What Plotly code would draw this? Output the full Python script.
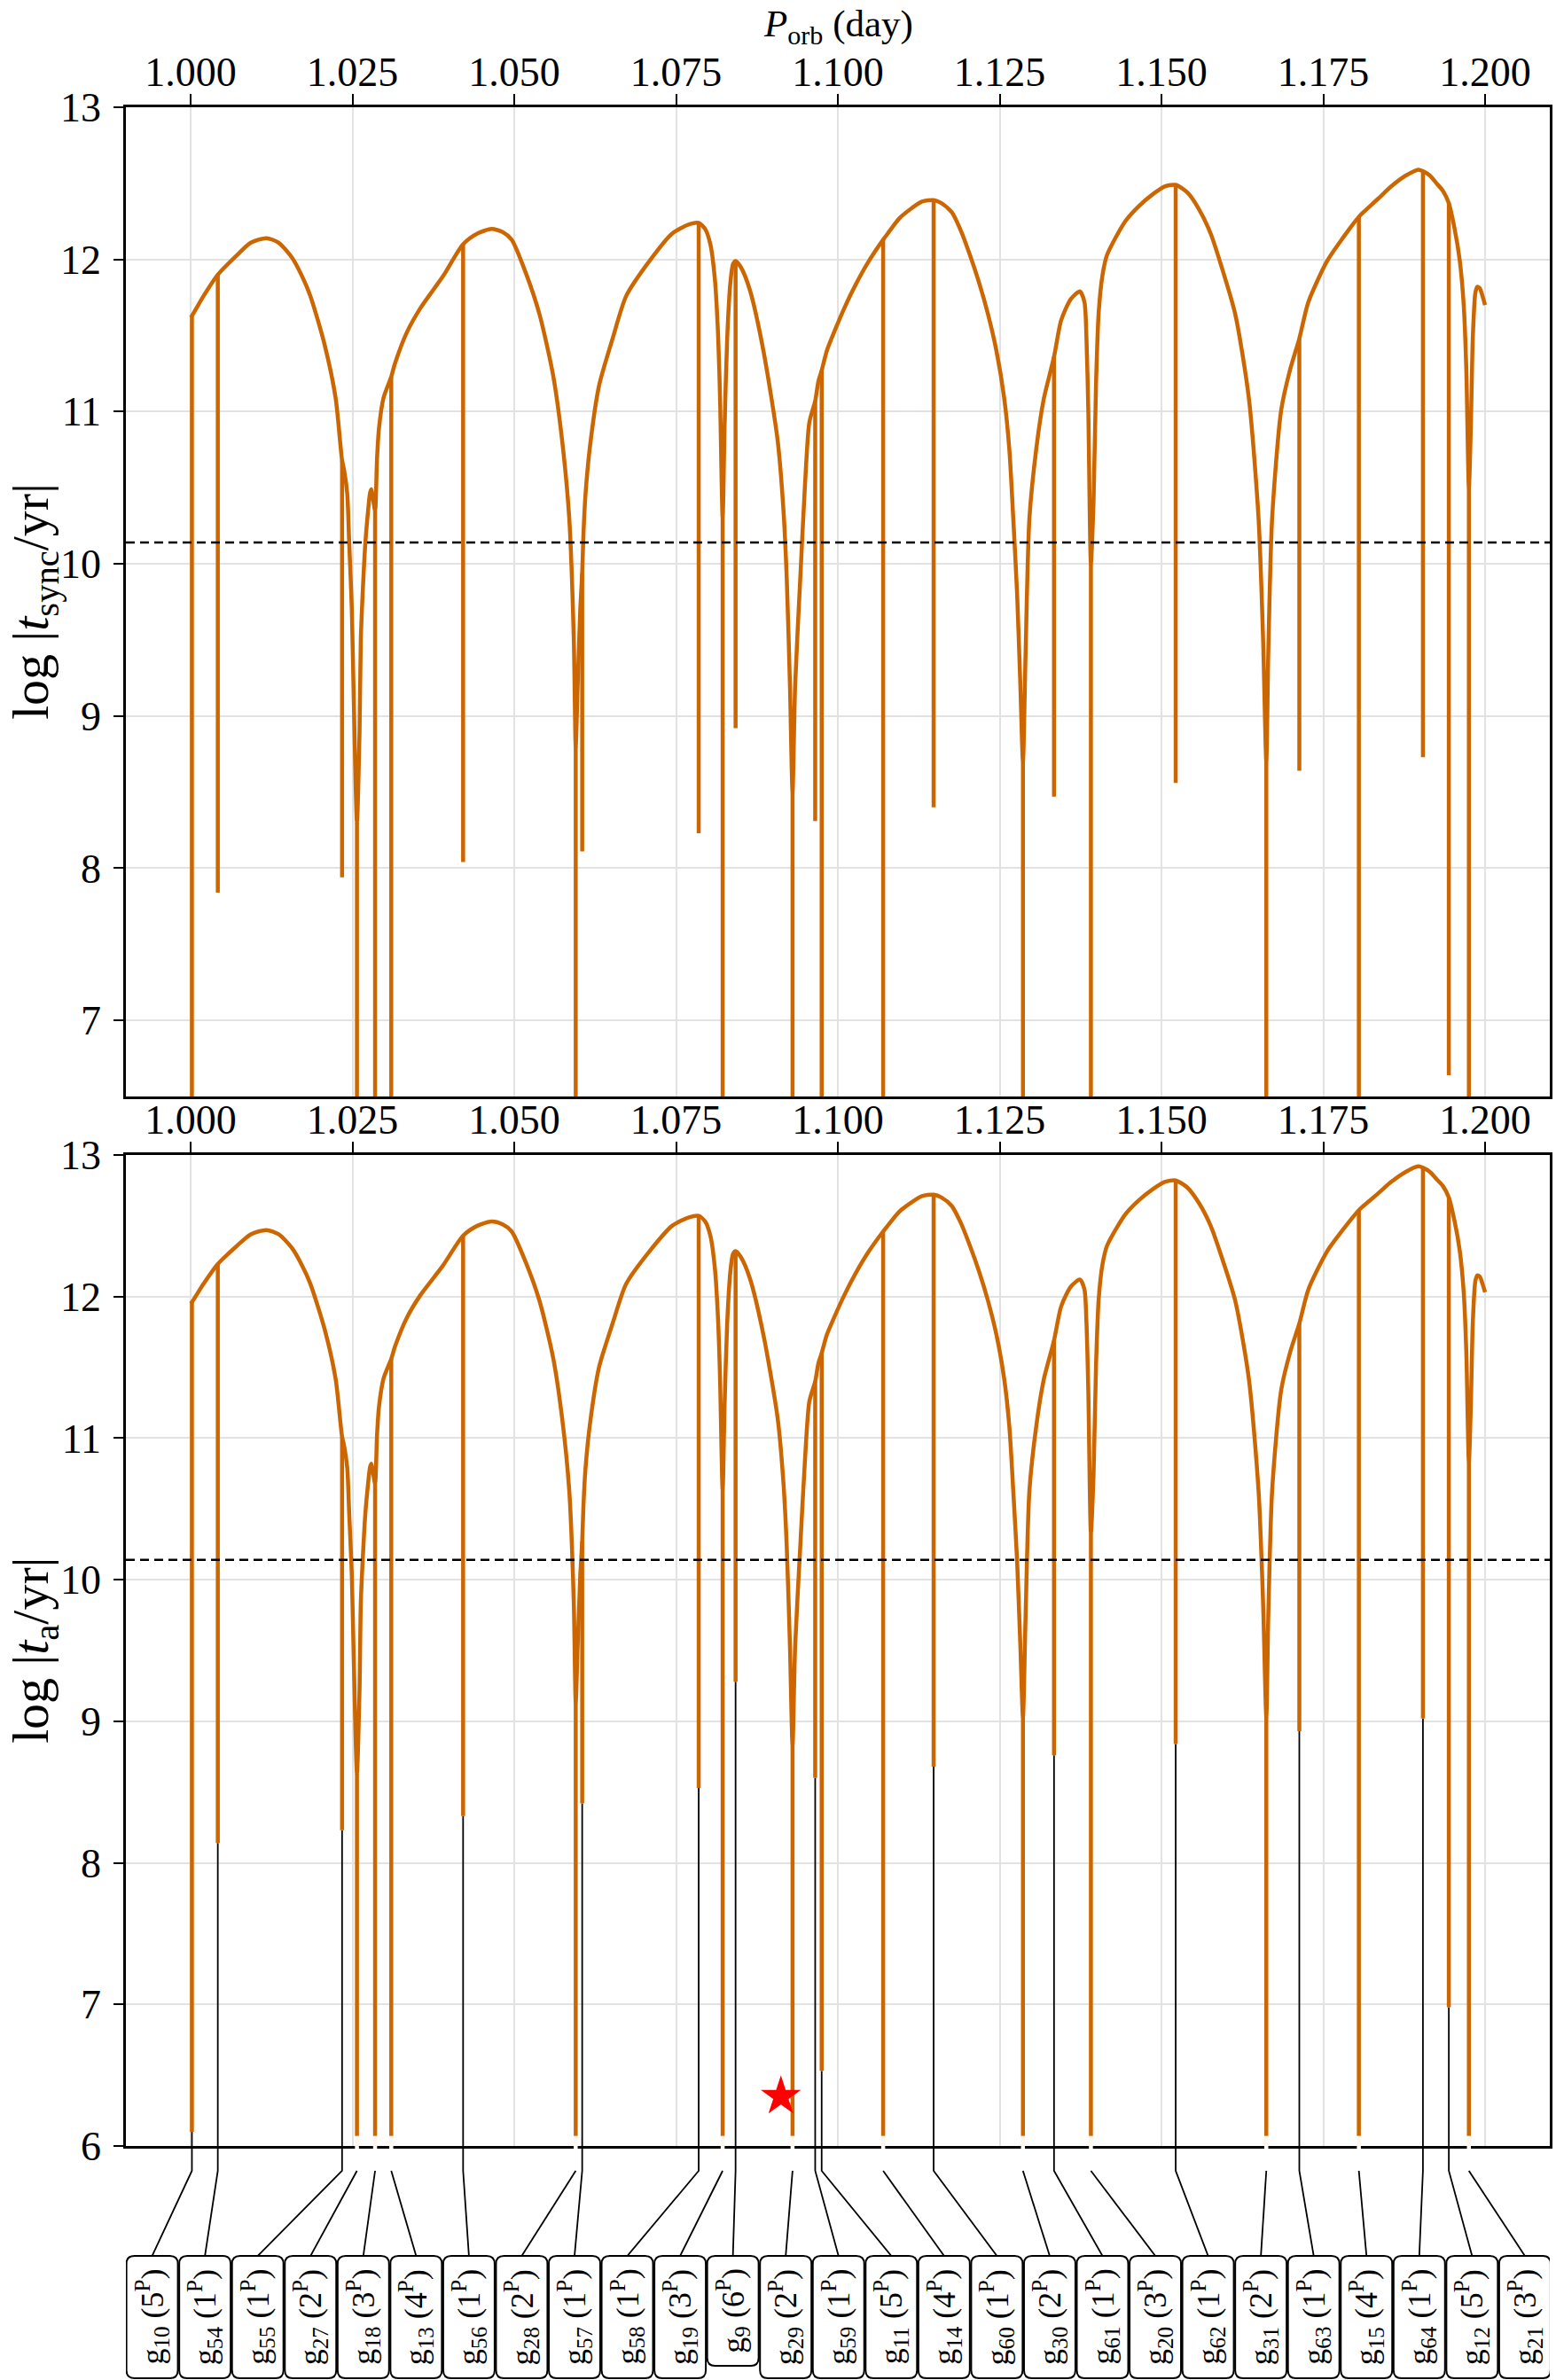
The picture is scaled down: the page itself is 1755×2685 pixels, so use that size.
import plotly.graph_objects as go

# ---------------- data ----------------
porb_env = [
    1.0000, 1.0002, 1.0020, 1.0042, 1.0072, 1.0093, 1.0117, 1.0136, 1.0157, 1.0171, 1.0185,
    1.0207, 1.0224, 1.0234, 1.0237, 1.0242, 1.0245, 1.0249, 1.0252, 1.0257, 1.0261, 1.0263,
    1.0267, 1.0270, 1.0274, 1.0277, 1.0279, 1.0282, 1.0285, 1.0288, 1.0291, 1.0298, 1.0310,
    1.0316, 1.0334, 1.0355, 1.0390, 1.0421, 1.0443, 1.0465, 1.0482, 1.0496, 1.0518, 1.0539,
    1.0560, 1.0574, 1.0585, 1.0592, 1.0595, 1.0598, 1.0602, 1.0605, 1.0607, 1.0610, 1.0617,
    1.0631, 1.0652, 1.0673, 1.0709, 1.0744, 1.0770, 1.0785, 1.0795, 1.0803, 1.0810, 1.0815,
    1.0818, 1.0822, 1.0825, 1.0829, 1.0834, 1.0838, 1.0842, 1.0850, 1.0864, 1.0885, 1.0907,
    1.0916, 1.0921, 1.0926, 1.0930, 1.0934, 1.0942, 1.0949, 1.0956, 1.0965, 1.0970, 1.0975,
    1.0983, 1.0995, 1.1010, 1.1027, 1.1048, 1.1070, 1.1077, 1.1095, 1.1112, 1.1130, 1.1148,
    1.1160, 1.1176, 1.1190, 1.1204, 1.1218, 1.1232, 1.1245, 1.1257, 1.1265, 1.1271, 1.1277,
    1.1282, 1.1286, 1.1290, 1.1296, 1.1307, 1.1318, 1.1334, 1.1345, 1.1360, 1.1374, 1.1381,
    1.1384, 1.1387, 1.1391, 1.1395, 1.1399, 1.1403, 1.1409, 1.1416, 1.1444, 1.1465, 1.1487,
    1.1505, 1.1522, 1.1540, 1.1558, 1.1576, 1.1593, 1.1614, 1.1635, 1.1650, 1.1657, 1.1662,
    1.1665, 1.1671, 1.1685, 1.1699, 1.1713, 1.1727, 1.1756, 1.1780, 1.1805, 1.1812, 1.1835,
    1.1855, 1.1877, 1.1897, 1.1904, 1.1915, 1.1925, 1.1935, 1.1944, 1.1953, 1.1961, 1.1967,
    1.1971, 1.1975, 1.1978, 1.1981, 1.1985, 1.1988, 1.1992, 1.1996, 1.2000,
]

log_tsync_env = [
    11.62, 11.63, 11.76, 11.90, 12.03, 12.11, 12.14, 12.11, 12.01, 11.90, 11.76,
    11.44, 11.09, 10.68, 10.62, 10.46, 10.14, 9.71, 9.12, 8.30, 8.90, 9.51,
    9.91, 10.14, 10.34, 10.46, 10.49, 10.42, 10.35, 10.69, 10.89, 11.09, 11.23,
    11.32, 11.52, 11.68, 11.89, 12.10, 12.17, 12.20, 12.18, 12.13, 11.91, 11.64,
    11.24, 10.81, 10.30, 9.51, 8.80, 9.20, 9.70, 9.94, 10.20, 10.45, 10.77,
    11.17, 11.48, 11.76, 11.99, 12.17, 12.23, 12.24, 12.20, 12.10, 11.87, 11.50,
    11.09, 10.30, 10.90, 11.48, 11.85, 11.97, 11.99, 11.95, 11.80, 11.40, 10.81,
    10.35, 9.91, 9.20, 8.50, 9.20, 9.91, 10.50, 10.93, 11.07, 11.20, 11.27,
    11.40, 11.53, 11.68, 11.83, 11.99, 12.13, 12.17, 12.27, 12.33, 12.38, 12.39,
    12.37, 12.31, 12.19, 12.03, 11.85, 11.64, 11.40, 11.09, 10.75, 10.30, 9.80,
    9.20, 8.70, 9.40, 10.30, 10.77, 11.08, 11.36, 11.60, 11.74, 11.79, 11.72,
    11.50, 11.00, 10.00, 10.40, 11.20, 11.65, 11.90, 12.03, 12.25, 12.35, 12.43,
    12.48, 12.49, 12.44, 12.33, 12.17, 11.95, 11.64, 11.09, 10.30, 9.51, 8.70,
    9.40, 10.30, 11.01, 11.28, 11.48, 11.72, 11.99, 12.14, 12.28, 12.31, 12.40,
    12.48, 12.55, 12.59, 12.58, 12.55, 12.50, 12.45, 12.37, 12.20, 11.99, 11.70,
    11.28, 10.50, 10.90, 11.48, 11.78, 11.82, 11.81, 11.76, 11.70,
]

log_ta_env = [
    11.95, 11.96, 12.09, 12.23, 12.36, 12.44, 12.47, 12.44, 12.34, 12.23, 12.09,
    11.77, 11.42, 11.01, 10.95, 10.79, 10.47, 10.04, 9.45, 8.63, 9.23, 9.84,
    10.24, 10.47, 10.67, 10.79, 10.82, 10.75, 10.68, 11.02, 11.22, 11.42, 11.56,
    11.65, 11.85, 12.01, 12.22, 12.43, 12.50, 12.53, 12.51, 12.46, 12.24, 11.97,
    11.57, 11.14, 10.63, 9.84, 9.13, 9.53, 10.03, 10.27, 10.53, 10.78, 11.10,
    11.50, 11.81, 12.09, 12.32, 12.50, 12.56, 12.57, 12.53, 12.43, 12.20, 11.83,
    11.42, 10.63, 11.23, 11.81, 12.18, 12.30, 12.32, 12.28, 12.13, 11.73, 11.14,
    10.68, 10.24, 9.53, 8.83, 9.53, 10.24, 10.83, 11.26, 11.40, 11.53, 11.60,
    11.73, 11.86, 12.01, 12.16, 12.32, 12.46, 12.50, 12.60, 12.66, 12.71, 12.72,
    12.70, 12.64, 12.52, 12.36, 12.18, 11.97, 11.73, 11.42, 11.08, 10.63, 10.13,
    9.53, 9.03, 9.73, 10.63, 11.10, 11.41, 11.69, 11.93, 12.07, 12.12, 12.05,
    11.83, 11.33, 10.33, 10.73, 11.53, 11.98, 12.23, 12.36, 12.58, 12.68, 12.76,
    12.81, 12.82, 12.77, 12.66, 12.50, 12.28, 11.97, 11.42, 10.63, 9.84, 9.03,
    9.73, 10.63, 11.34, 11.61, 11.81, 12.05, 12.32, 12.47, 12.61, 12.64, 12.73,
    12.81, 12.88, 12.92, 12.91, 12.88, 12.83, 12.78, 12.70, 12.53, 12.32, 12.03,
    11.61, 10.83, 11.23, 11.81, 12.11, 12.15, 12.14, 12.09, 12.03,
]

# resonances (g-modes), in order of orbital period
res_mode = [10, 54, 55, 27, 18, 13, 56, 28, 57, 58, 19, 9, 29, 59, 11, 14,
            60, 30, 61, 20, 62, 31, 63, 15, 64, 12, 21]
res_order = [5, 1, 1, 2, 3, 4, 1, 2, 1, 1, 3, 6, 2, 1, 5, 4,
             1, 2, 1, 3, 1, 2, 1, 4, 1, 5, 3]
res_porb = [1.0002, 1.0042, 1.0234, 1.0257, 1.0285, 1.0310, 1.0421, 1.0595, 1.0605,
            1.0785, 1.0822, 1.0842, 1.0930, 1.0965, 1.0975, 1.1070, 1.1148, 1.1286,
            1.1334, 1.1391, 1.1522, 1.1662, 1.1713, 1.1805, 1.1904, 1.1944, 1.1975]
res_depth_sync = [5.75, 7.84, 7.94, 5.75, 5.75, 5.75, 8.04, 5.75, 8.11,
                  8.23, 5.75, 8.92, 5.75, 8.31, 6.20, 5.75, 8.40, 5.75,
                  8.47, 5.75, 8.56, 5.75, 8.64, 5.75, 8.73, 6.64, 5.75]
res_depth_ta = [6.10, 8.14, 8.23, 6.07, 6.07, 6.07, 8.33, 6.07, 8.42,
                8.53, 6.07, 9.28, 6.07, 8.60, 6.53, 6.07, 8.68, 6.07,
                8.76, 6.07, 8.84, 6.07, 8.93, 6.07, 9.02, 6.98, 6.07]

star_porb = [1.0912]
star_log_ta = [6.35]
log_t_crit = 10.14

x_range = [0.99, 1.21]
xtick_vals = [1.000, 1.025, 1.050, 1.075, 1.100, 1.125, 1.150, 1.175, 1.200]
xtick_text = ["1.000", "1.025", "1.050", "1.075", "1.100", "1.125", "1.150", "1.175", "1.200"]
ytick_top = [7, 8, 9, 10, 11, 12, 13]
ytick_bot = [6, 7, 8, 9, 10, 11, 12, 13]

# ---------------- layout geometry (pixels) ----------------
W, H = 1755, 2685
ML, MR, MT, MB = 142, 7, 121, 0
PH = H - MT - MB
PW = W - ML - MR


def py2paper(py):
    return (H - MB - py) / PH


dom_top = [py2paper(1237), 1.0]
dom_bot = [py2paper(2421), py2paper(1303)]
dom_lab = [0.0, py2paper(2421)]
LAB_H = 2685 - 2421  # label strip height in px (y3 units are px)

ORANGE = "#cc6600"
FONT = "Liberation Serif"
GRID = "#e2e2e2"
TICK_FS = 46
XTITLE_FS = 43
YTITLE_FS = 58

fig = go.Figure()


def env_at(env_y):
    m = {round(p, 4): v for p, v in zip(porb_env, env_y)}
    return [m[round(p, 4)] for p in res_porb]


def spikes(env_y, depths):
    tops = env_at(env_y)
    xs, ys = [], []
    for p, t, d in zip(res_porb, tops, depths):
        xs += [p, p, None]
        ys += [t, d, None]
    return xs, ys


def add_panel(env_y, depths, xa, ya):
    sx, sy = spikes(env_y, depths)
    fig.add_trace(go.Scatter(x=sx, y=sy, mode="lines", xaxis=xa, yaxis=ya,
                             line=dict(color=ORANGE, width=4.5), hoverinfo="skip",
                             showlegend=False))
    fig.add_trace(go.Scatter(x=porb_env, y=env_y, mode="lines", xaxis=xa, yaxis=ya,
                             line=dict(color=ORANGE, width=4.5, shape="spline", smoothing=0.7),
                             hoverinfo="skip", showlegend=False))


# top panel
add_panel(log_tsync_env, res_depth_sync, "x", "y")

# black guide lines inside bottom panel (below spike tips)
CLIP = 6.09
bx, by = [], []
for p, d in zip(res_porb, res_depth_ta):
    if d >= CLIP:
        bx += [p, p, None]
        by += [d, 6.0, None]
fig.add_trace(go.Scatter(x=bx, y=by, mode="lines", xaxis="x2", yaxis="y2",
                         line=dict(color="black", width=1.8), hoverinfo="skip", showlegend=False))

# bottom panel
add_panel(log_ta_env, res_depth_ta, "x2", "y2")

# red star
fig.add_trace(go.Scatter(x=star_porb, y=star_log_ta, mode="markers", xaxis="x2", yaxis="y2",
                         marker=dict(symbol="star", size=34, color="red", line=dict(width=0)),
                         cliponaxis=False, hoverinfo="skip", showlegend=False))

# label boxes geometry
DX = (x_range[1] - x_range[0]) / PW
box_c0_px, box_pitch_px, box_w_px = 171.6, 59.55, 58.0
BEND, BOX_TOP = -28, -124
box_cx = [x_range[0] + (box_c0_px - ML + i * box_pitch_px) * DX for i in range(len(res_mode))]

cx, cy = [], []
for p, d, bc in zip(res_porb, res_depth_ta, box_cx):
    if d >= CLIP:
        cx += [p, p, bc, None]
        cy += [0, BEND, BOX_TOP, None]
    else:
        cx += [p, bc, None]
        cy += [BEND, BOX_TOP, None]
fig.add_trace(go.Scatter(x=cx, y=cy, mode="lines", xaxis="x3", yaxis="y3",
                         line=dict(color="black", width=1.8), hoverinfo="skip", showlegend=False))

shapes = []
# dashed critical timescale lines
for xr, yr in (("x domain", "y"), ("x2 domain", "y2")):
    shapes.append(dict(type="line", xref=xr, yref=yr, x0=0, x1=1, y0=log_t_crit, y1=log_t_crit,
                       line=dict(color="black", width=2.5, dash="10px,6px"), layer="above"))

# white gaps where the clipped resonances cross the bottom spine
for p, d in zip(res_porb, res_depth_ta):
    if d < CLIP:
        shapes.append(dict(type="line", xref="x2", yref="y2", x0=p, x1=p, y0=d, y1=5.9,
                           line=dict(color="#fff6ec", width=4.5), layer="above"))
        shapes.append(dict(type="line", xref="x3", yref="y3", x0=p, x1=p, y0=1, y1=-3,
                           line=dict(color="white", width=4.5), layer="above"))


def rounded_box(xc, half_w, y_top, y_bot, rx, ry):
    x0, x1 = xc - half_w, xc + half_w
    return (f"M {x0 + rx},{y_top} L {x1 - rx},{y_top} Q {x1},{y_top} {x1},{y_top - ry} "
            f"L {x1},{y_bot + ry} Q {x1},{y_bot} {x1 - rx},{y_bot} L {x0 + rx},{y_bot} "
            f"Q {x0},{y_bot} {x0},{y_bot + ry} L {x0},{y_top - ry} Q {x0},{y_top} {x0 + rx},{y_top} Z")


annotations = []
for m, n, bc in zip(res_mode, res_order, box_cx):
    y_bot = -262 if m >= 10 else -248
    shapes.append(dict(type="path", xref="x3", yref="y3",
                       path=rounded_box(bc, box_w_px / 2 * DX, BOX_TOP, y_bot, 9 * DX, 9),
                       line=dict(color="black", width=2), fillcolor="white", layer="above"))
    annotations.append(dict(xref="x3", yref="y3", x=bc, y=(BOX_TOP + y_bot) / 2,
                            text=f"g<sub>{m}</sub> ({n}<sup>P</sup>)", textangle=-90,
                            showarrow=False, font=dict(family=FONT, size=36, color="black"),
                            xanchor="center", yanchor="middle"))

# axis titles
annotations.append(dict(xref="paper", yref="paper", x=(945 - ML) / PW, y=py2paper(1),
                        text="<i>P</i><sub>orb</sub> (day)", showarrow=False,
                        font=dict(family=FONT, size=XTITLE_FS, color="black"),
                        xanchor="center", yanchor="top"))
annotations.append(dict(xref="paper", yref="paper", x=(38 - ML) / PW, y=sum(dom_top) / 2,
                        text="log |<i>t</i><sub>sync</sub>/yr|", textangle=-90, showarrow=False,
                        font=dict(family=FONT, size=YTITLE_FS, color="black"),
                        xanchor="center", yanchor="middle"))
annotations.append(dict(xref="paper", yref="paper", x=(38 - ML) / PW, y=sum(dom_bot) / 2,
                        text="log |<i>t</i><sub>a</sub>/yr|", textangle=-90, showarrow=False,
                        font=dict(family=FONT, size=YTITLE_FS, color="black"),
                        xanchor="center", yanchor="middle"))

xcommon = dict(range=x_range, tickmode="array", tickvals=xtick_vals, ticktext=xtick_text,
               side="top", ticks="outside", ticklen=12, tickwidth=2, tickcolor="black",
               showline=True, linewidth=2.5, linecolor="black", mirror=True,
               showgrid=True, gridcolor=GRID, gridwidth=1.5, zeroline=False, automargin=False,
               tickfont=dict(family=FONT, size=TICK_FS, color="black"), ticklabelstandoff=-9)
ycommon = dict(ticks="outside", ticklen=11, tickwidth=2, tickcolor="black",
               showline=True, linewidth=2.5, linecolor="black", mirror=True,
               showgrid=True, gridcolor=GRID, gridwidth=1.5, zeroline=False, automargin=False,
               tickfont=dict(family=FONT, size=TICK_FS, color="black"), ticklabelstandoff=5)

fig.update_layout(
    template="none",
    width=W, height=H, autosize=False,
    margin=dict(l=ML, r=MR, t=MT, b=MB, pad=0),
    paper_bgcolor="white", plot_bgcolor="white",
    showlegend=False,
    xaxis=dict(anchor="y", domain=[0, 1], **xcommon),
    yaxis=dict(anchor="x", domain=dom_top, range=[6.5, 13], tickvals=ytick_top, **ycommon),
    xaxis2=dict(anchor="y2", domain=[0, 1], **xcommon),
    yaxis2=dict(anchor="x2", domain=dom_bot, range=[6, 13], tickvals=ytick_bot, **ycommon),
    xaxis3=dict(anchor="y3", domain=[0, 1], range=x_range, visible=False, fixedrange=True,
                automargin=False),
    yaxis3=dict(anchor="x3", domain=dom_lab, range=[-LAB_H, 0], visible=False, fixedrange=True,
                automargin=False),
    shapes=shapes,
    annotations=annotations,
)

fig.write_html("out.html")
